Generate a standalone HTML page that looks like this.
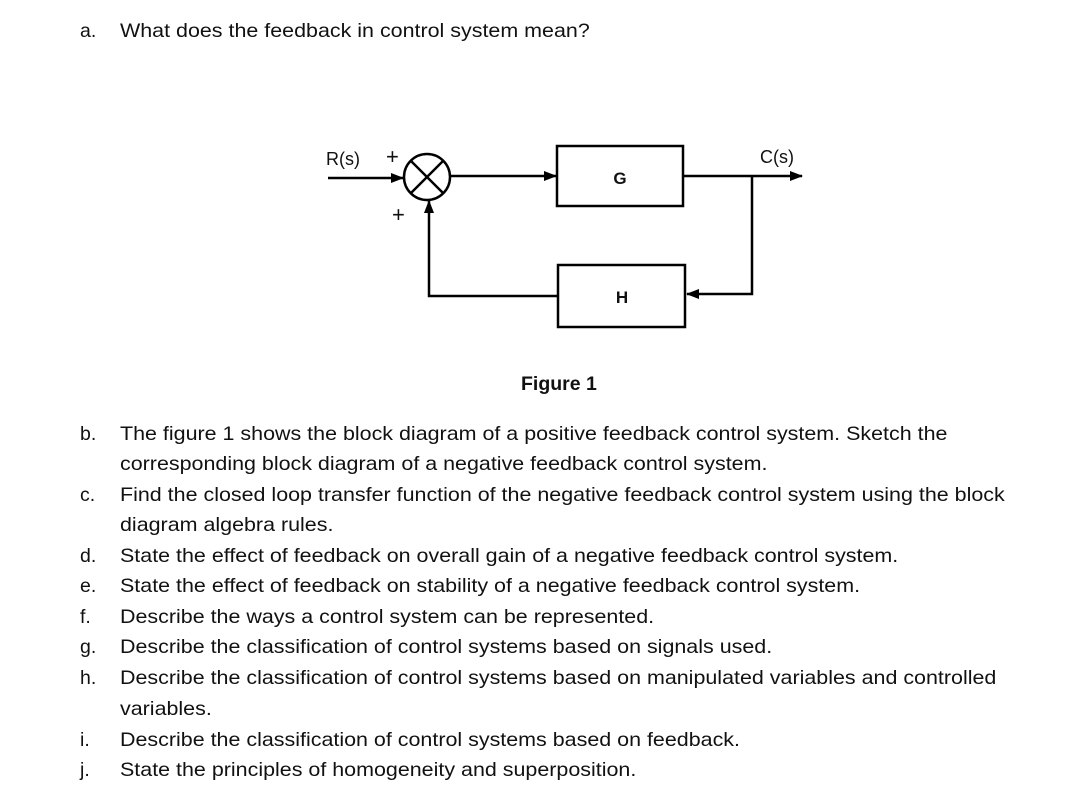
<!DOCTYPE html>
<html><head><style>
body{margin:0;width:1080px;height:794px;background:#fff;position:relative;overflow:hidden;font-family:"Liberation Sans",sans-serif;color:#111}
.t{position:absolute;font-size:19.5px;white-space:nowrap;line-height:22px;transform:scaleX(1.1);transform-origin:0 0}
.l{position:absolute;left:80px;font-size:19.5px;line-height:22px}
</style></head><body>
<div class="l" style="top:20px">a.</div><div class="t" style="left:120px;top:20px">What does the feedback in control system mean?</div>
<svg style="position:absolute;left:0;top:0" width="1080" height="794">
<defs><marker id="a" markerWidth="13" markerHeight="10" refX="12" refY="5" orient="auto" markerUnits="userSpaceOnUse"><path d="M0,0L13,5L0,10z" fill="#000"/></marker></defs>
<g stroke="#000" stroke-width="2.5" fill="none">
<circle cx="427" cy="177" r="23"/>
<line x1="411" y1="161" x2="443" y2="193"/><line x1="443" y1="161" x2="411" y2="193"/>
<line x1="328" y1="178" x2="403" y2="178" marker-end="url(#a)"/>
<line x1="450" y1="176" x2="556" y2="176" marker-end="url(#a)"/>
<rect x="557" y="146" width="126" height="60"/>
<line x1="683" y1="176" x2="802" y2="176" marker-end="url(#a)"/>
<polyline points="752,176 752,294 687,294" marker-end="url(#a)"/>
<rect x="558" y="265" width="127" height="62"/>
<polyline points="558,296 429,296 429,201" marker-end="url(#a)"/>
</g>
<g font-family="Liberation Sans,sans-serif" font-size="18" fill="#111">
<text x="326" y="165">R(s)</text><text x="386" y="164" font-size="22">+</text>
<text x="392" y="222" font-size="22">+</text><text x="760" y="163">C(s)</text>
<text x="620" y="184" font-weight="bold" text-anchor="middle" font-size="17">G</text>
<text x="622" y="303" font-weight="bold" text-anchor="middle" font-size="17">H</text>
</g></svg>
<div class="t" style="left:521px;top:373px;font-weight:bold;transform:none">Figure 1</div>
<div class="l" style="top:423px">b.</div><div class="t" style="left:120px;top:423px">The figure 1 shows the block diagram of a positive feedback control system. Sketch the</div>
<div class="t" style="left:120px;top:453px">corresponding block diagram of a negative feedback control system.</div>
<div class="l" style="top:484px">c.</div><div class="t" style="left:120px;top:484px">Find the closed loop transfer function of the negative feedback control system using the block</div>
<div class="t" style="left:120px;top:514px">diagram algebra rules.</div>
<div class="l" style="top:545px">d.</div><div class="t" style="left:120px;top:545px">State the effect of feedback on overall gain of a negative feedback control system.</div>
<div class="l" style="top:575px">e.</div><div class="t" style="left:120px;top:575px">State the effect of feedback on stability of a negative feedback control system.</div>
<div class="l" style="top:606px">f.</div><div class="t" style="left:120px;top:606px">Describe the ways a control system can be represented.</div>
<div class="l" style="top:636px">g.</div><div class="t" style="left:120px;top:636px">Describe the classification of control systems based on signals used.</div>
<div class="l" style="top:667px">h.</div><div class="t" style="left:120px;top:667px">Describe the classification of control systems based on manipulated variables and controlled</div>
<div class="t" style="left:120px;top:698px">variables.</div>
<div class="l" style="top:729px">i.</div><div class="t" style="left:120px;top:729px">Describe the classification of control systems based on feedback.</div>
<div class="l" style="top:759px">j.</div><div class="t" style="left:120px;top:759px">State the principles of homogeneity and superposition.</div>
</body></html>
